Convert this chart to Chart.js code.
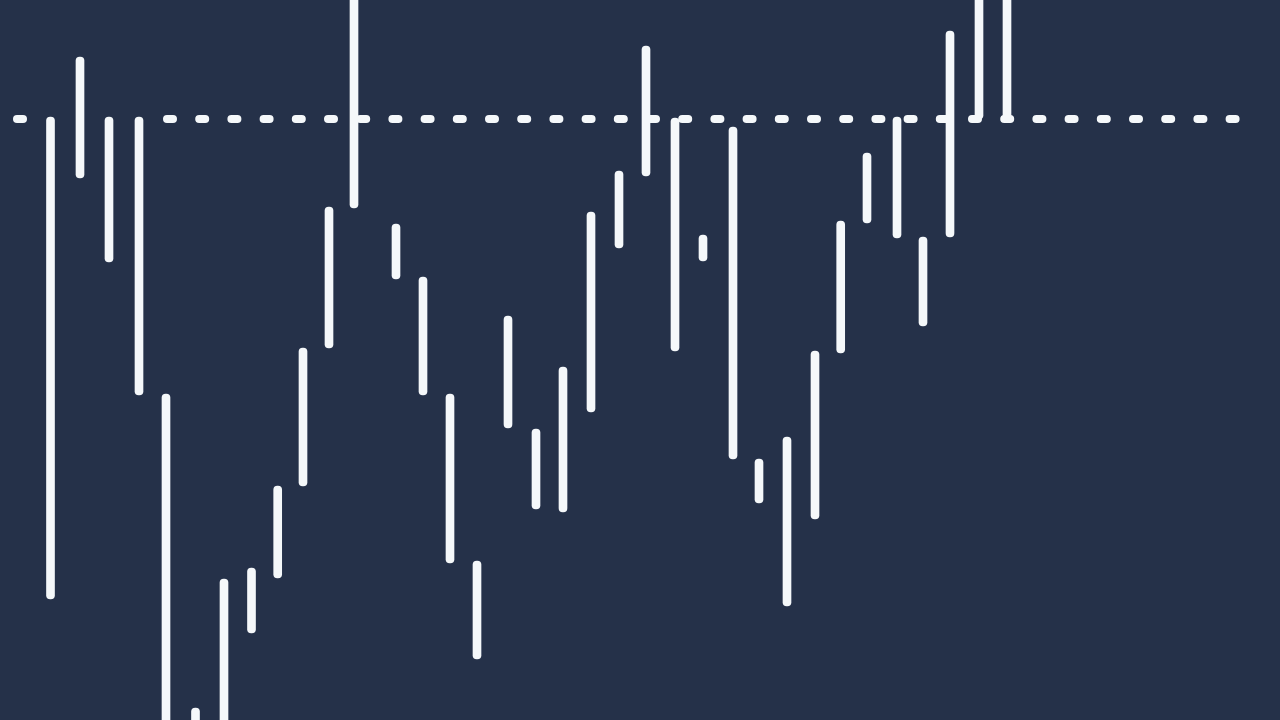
<!DOCTYPE html>
<html>
<head>
<meta charset="utf-8">
<title>Bodies</title>
<script src="https://cdn.jsdelivr.net/npm/chart.js@4.4.1/dist/chart.umd.min.js"></script>
<style>
  html, body { margin: 0; padding: 0; background: #253149; overflow: hidden; }
  #wrap { width: 1280px; height: 720px; }
</style>
</head>
<body>
<div id="wrap"><canvas id="chart" width="1280" height="720"></canvas></div>
<script>
// Session times (x) and candle bodies [low, high]
const times = [5.05, 8.0, 10.9, 13.9, 16.6, 19.55, 22.4, 25.15, 27.77, 30.3, 32.9, 35.4,
  39.6, 42.3, 45.0, 47.7, 50.8, 53.6, 56.3, 59.1, 61.9, 64.6, 67.5, 70.3, 73.3,
  75.9, 78.7, 81.5, 84.07, 86.7, 89.7, 92.3, 95.0, 97.9, 100.7];
const lows = [12.1, 54.2, 45.8, 32.5, -4, -4, -4, 8.7, 14.2, 23.4, 37.2, 51.2,
  44.1, 32.5, 15.7, 6.1, 29.2, 21.1, 20.8, 30.8, 47.2, 54.4, 36.9, 45.9, 26.1,
  21.7, 11.4, 20.1, 36.7, 49.7, 48.2, 39.4, 48.3, 60.1, 60.1];
const highs = [60.3, 66.3, 60.3, 60.3, 32.6, 1.2, 14.1, 15.2, 23.4, 37.2, 51.3, 75,
  49.6, 44.3, 32.6, 15.9, 40.4, 29.1, 35.3, 50.8, 54.9, 67.4, 60.2, 48.5, 59.3,
  26.1, 28.3, 36.9, 49.9, 56.7, 60.3, 48.3, 68.9, 75, 75];

// Resistance level and the stretches where it is drawn
const resistance = 60.1;
const resistanceStart = [1.7, 16.7];
const resistanceEnd = [2.4, 125.9];

const bodies = times.map((t, i) => ({ x: t, y: [lows[i], highs[i]] }));

const lineStyle = {
    type: 'line',
    borderColor: '#f5f8fa',
    borderWidth: 8,
    borderDash: [6, 26.2],
    borderCapStyle: 'round',
    pointRadius: 0,
    tension: 0,
    fill: false
};

const resistanceSets = resistanceStart.map((s, i) => Object.assign({}, lineStyle, {
    data: [{ x: s, y: resistance }, { x: resistanceEnd[i], y: resistance }]
}));

new Chart(document.getElementById('chart'), {
    type: 'bar',
    data: {
        datasets: [
            {
                data: bodies,
                backgroundColor: '#f5f8fa',
                borderWidth: 0,
                borderRadius: 4,
                borderSkipped: false,
                barThickness: 8
            },
            ...resistanceSets
        ]
    },
    options: {
        responsive: false,
        animation: false,
        layout: { padding: 0 },
        plugins: {
            legend: { display: false },
            tooltip: { enabled: false }
        },
        scales: {
            x: { type: 'linear', min: 0, max: 128, display: false, offset: false },
            y: { min: 0, max: 72, display: false }
        }
    },
    plugins: [{
        id: 'bg',
        beforeDraw(chart) {
            const ctx = chart.ctx;
            ctx.save();
            ctx.fillStyle = '#253149';
            ctx.fillRect(0, 0, chart.width, chart.height);
            ctx.restore();
        }
    }]
});
</script>
</body>
</html>
